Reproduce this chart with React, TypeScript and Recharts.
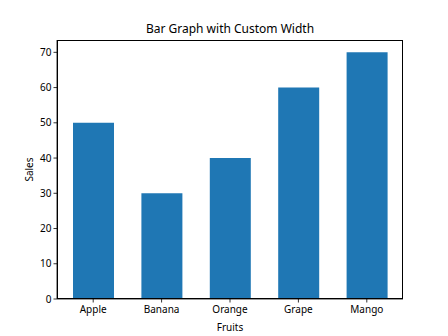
import { Bar, BarChart, XAxis, YAxis } from "recharts";

// Sales per fruit, drawn as plain bars with a narrow custom width.
const fruits = ["Apple", "Banana", "Orange", "Grape", "Mango"];
const sales = [50, 30, 40, 60, 70];
const yTicks = [0, 10, 20, 30, 40, 50, 60, 70];

const BAR_COLOR = "#1f77b4";
const FONT = "'Noto Sans', 'Open Sans', sans-serif";

// plot box inside the 448x336 figure
const PLOT = { left: 57, top: 40, width: 346, height: 259 };

export default function App() {
  const data = fruits.map((name, i) => ({ name, sales: sales[i] }));
  const tick = { fontSize: 10, fill: "#000", fontFamily: FONT };

  return (
    <div style={{ position: "fixed", left: 0, top: 0, width: 448, height: 336, background: "#fff" }}>
      <div
        style={{
          position: "absolute",
          left: PLOT.left,
          width: PLOT.width,
          top: 20,
          textAlign: "center",
          fontFamily: FONT,
          fontSize: 12,
          color: "#000",
        }}
      >
        Bar Graph with Custom Width
      </div>
      <BarChart
        width={448}
        height={336}
        data={data}
        margin={{ top: PLOT.top, right: 448 - PLOT.left - PLOT.width, bottom: 0, left: 17 }}
        barSize={41}
      >
        <XAxis
          dataKey="name"
          padding={{ left: 2, right: 2 }}
          height={37}
          tick={tick}
          tickSize={3.5}
          tickMargin={3}
          axisLine={{ stroke: "#000", strokeWidth: 0.8 }}
          tickLine={{ stroke: "#000", strokeWidth: 0.8 }}
          label={{ value: "Fruits", position: "insideBottom", offset: 5, style: { ...tick } }}
        />
        <YAxis
          domain={[0, 73.5]}
          ticks={yTicks}
          allowDataOverflow
          width={40}
          tick={tick}
          tickSize={3.5}
          tickMargin={2}
          axisLine={{ stroke: "#000", strokeWidth: 0.8 }}
          tickLine={{ stroke: "#000", strokeWidth: 0.8 }}
          label={{ value: "Sales", angle: -90, position: "insideLeft", offset: 12, style: { ...tick, textAnchor: "middle" } }}
        />
        <Bar dataKey="sales" fill={BAR_COLOR} isAnimationActive={false} />
      </BarChart>
      {/* axes frame (top and right spines) */}
      <div
        style={{
          position: "absolute",
          left: PLOT.left,
          top: PLOT.top,
          width: PLOT.width,
          height: PLOT.height,
          boxSizing: "border-box",
          border: "1px solid #000",
          pointerEvents: "none",
        }}
      />
    </div>
  );
}
